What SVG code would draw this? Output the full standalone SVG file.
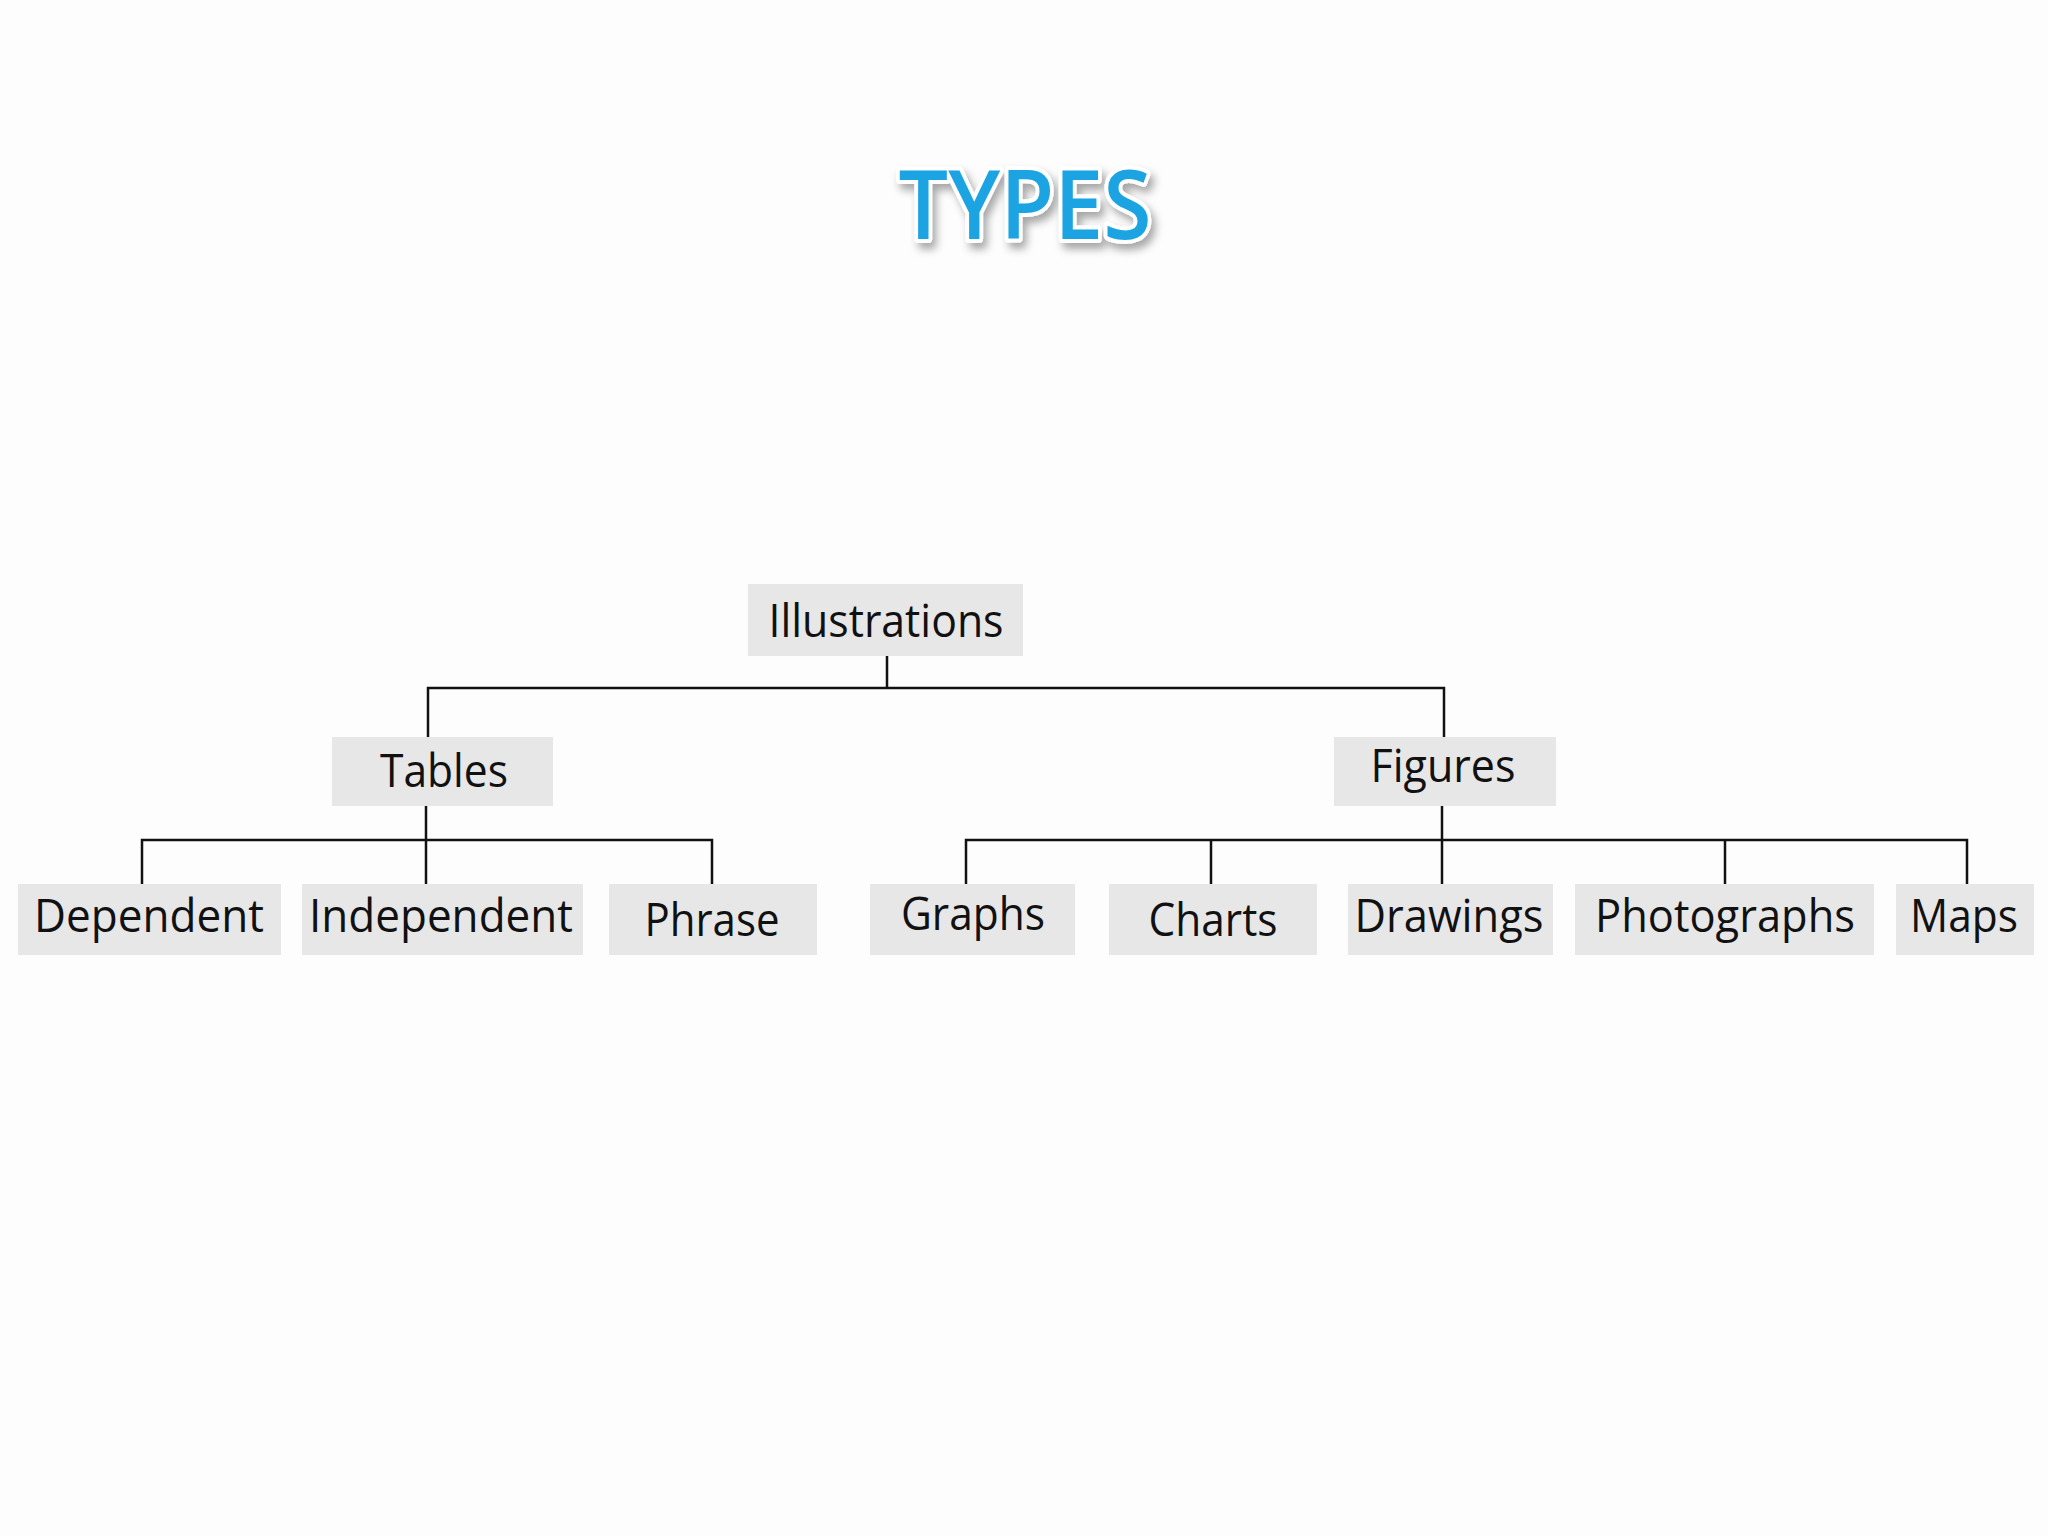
<svg xmlns="http://www.w3.org/2000/svg" width="2048" height="1536" viewBox="0 0 2048 1536">
  <style>
    .box { fill: #E8E7E8; }
    .lbl { font-family: "Open Sans", "Liberation Sans", sans-serif; font-size: 46px; fill: #111111; text-anchor: middle; }
    .conn { fill: none; stroke: #111111; stroke-width: 2.5; }
    .title { font-family: "Open Sans", "Liberation Sans", sans-serif; font-size: 96px; font-weight: 600; fill: #1BA4E2; text-anchor: middle; stroke: #FFFFFF; stroke-width: 8; paint-order: stroke; stroke-linejoin: round; }
  </style>
  <defs>
    <filter id="shadow" x="-10%" y="-20%" width="130%" height="150%">
      <feDropShadow dx="4" dy="6" stdDeviation="4" flood-color="#000000" flood-opacity="0.35"/>
    </filter>
  </defs>
  <rect width="2048" height="1536" fill="#FEFDFE"/>

  <text class="title" x="1025" y="239" textLength="253" lengthAdjust="spacingAndGlyphs" filter="url(#shadow)">TYPES</text>

  <g id="connectors">
    <path class="conn" d="M887 656 V688 M428 737 V688 H1444 V737"/>
    <path class="conn" d="M426 806 V840 M142 884 V840 H712 V884 M426 840 V884"/>
    <path class="conn" d="M1442 806 V840 M966 884 V840 H1967 V884 M1211 840 V884 M1442 840 V884 M1725 840 V884"/>
  </g>

  <g id="illustrations">
    <rect class="box" x="748" y="584" width="275" height="72"/>
    <text class="lbl" x="886" y="637" textLength="235" lengthAdjust="spacingAndGlyphs">Illustrations</text>
  </g>
  <g id="tables">
    <rect class="box" x="332" y="737" width="221" height="69"/>
    <text class="lbl" x="444" y="787" textLength="128" lengthAdjust="spacingAndGlyphs">Tables</text>
  </g>
  <g id="figures">
    <rect class="box" x="1334" y="737" width="222" height="69"/>
    <text class="lbl" x="1443" y="782" textLength="145" lengthAdjust="spacingAndGlyphs">Figures</text>
  </g>
  <g id="dependent">
    <rect class="box" x="18" y="884" width="263" height="71"/>
    <text class="lbl" x="149" y="932" textLength="230" lengthAdjust="spacingAndGlyphs">Dependent</text>
  </g>
  <g id="independent">
    <rect class="box" x="302" y="884" width="281" height="71"/>
    <text class="lbl" x="441" y="932" textLength="264" lengthAdjust="spacingAndGlyphs">Independent</text>
  </g>
  <g id="phrase">
    <rect class="box" x="609" y="884" width="208" height="71"/>
    <text class="lbl" x="712" y="936" textLength="135" lengthAdjust="spacingAndGlyphs">Phrase</text>
  </g>
  <g id="graphs">
    <rect class="box" x="870" y="884" width="205" height="71"/>
    <text class="lbl" x="973" y="930" textLength="144" lengthAdjust="spacingAndGlyphs">Graphs</text>
  </g>
  <g id="charts">
    <rect class="box" x="1109" y="884" width="208" height="71"/>
    <text class="lbl" x="1213" y="936" textLength="129" lengthAdjust="spacingAndGlyphs">Charts</text>
  </g>
  <g id="drawings">
    <rect class="box" x="1348" y="884" width="205" height="71"/>
    <text class="lbl" x="1449" y="932" textLength="189" lengthAdjust="spacingAndGlyphs">Drawings</text>
  </g>
  <g id="photographs">
    <rect class="box" x="1575" y="884" width="299" height="71"/>
    <text class="lbl" x="1725" y="932" textLength="260" lengthAdjust="spacingAndGlyphs">Photographs</text>
  </g>
  <g id="maps">
    <rect class="box" x="1896" y="884" width="138" height="71"/>
    <text class="lbl" x="1964" y="932" textLength="108" lengthAdjust="spacingAndGlyphs">Maps</text>
  </g>
</svg>
